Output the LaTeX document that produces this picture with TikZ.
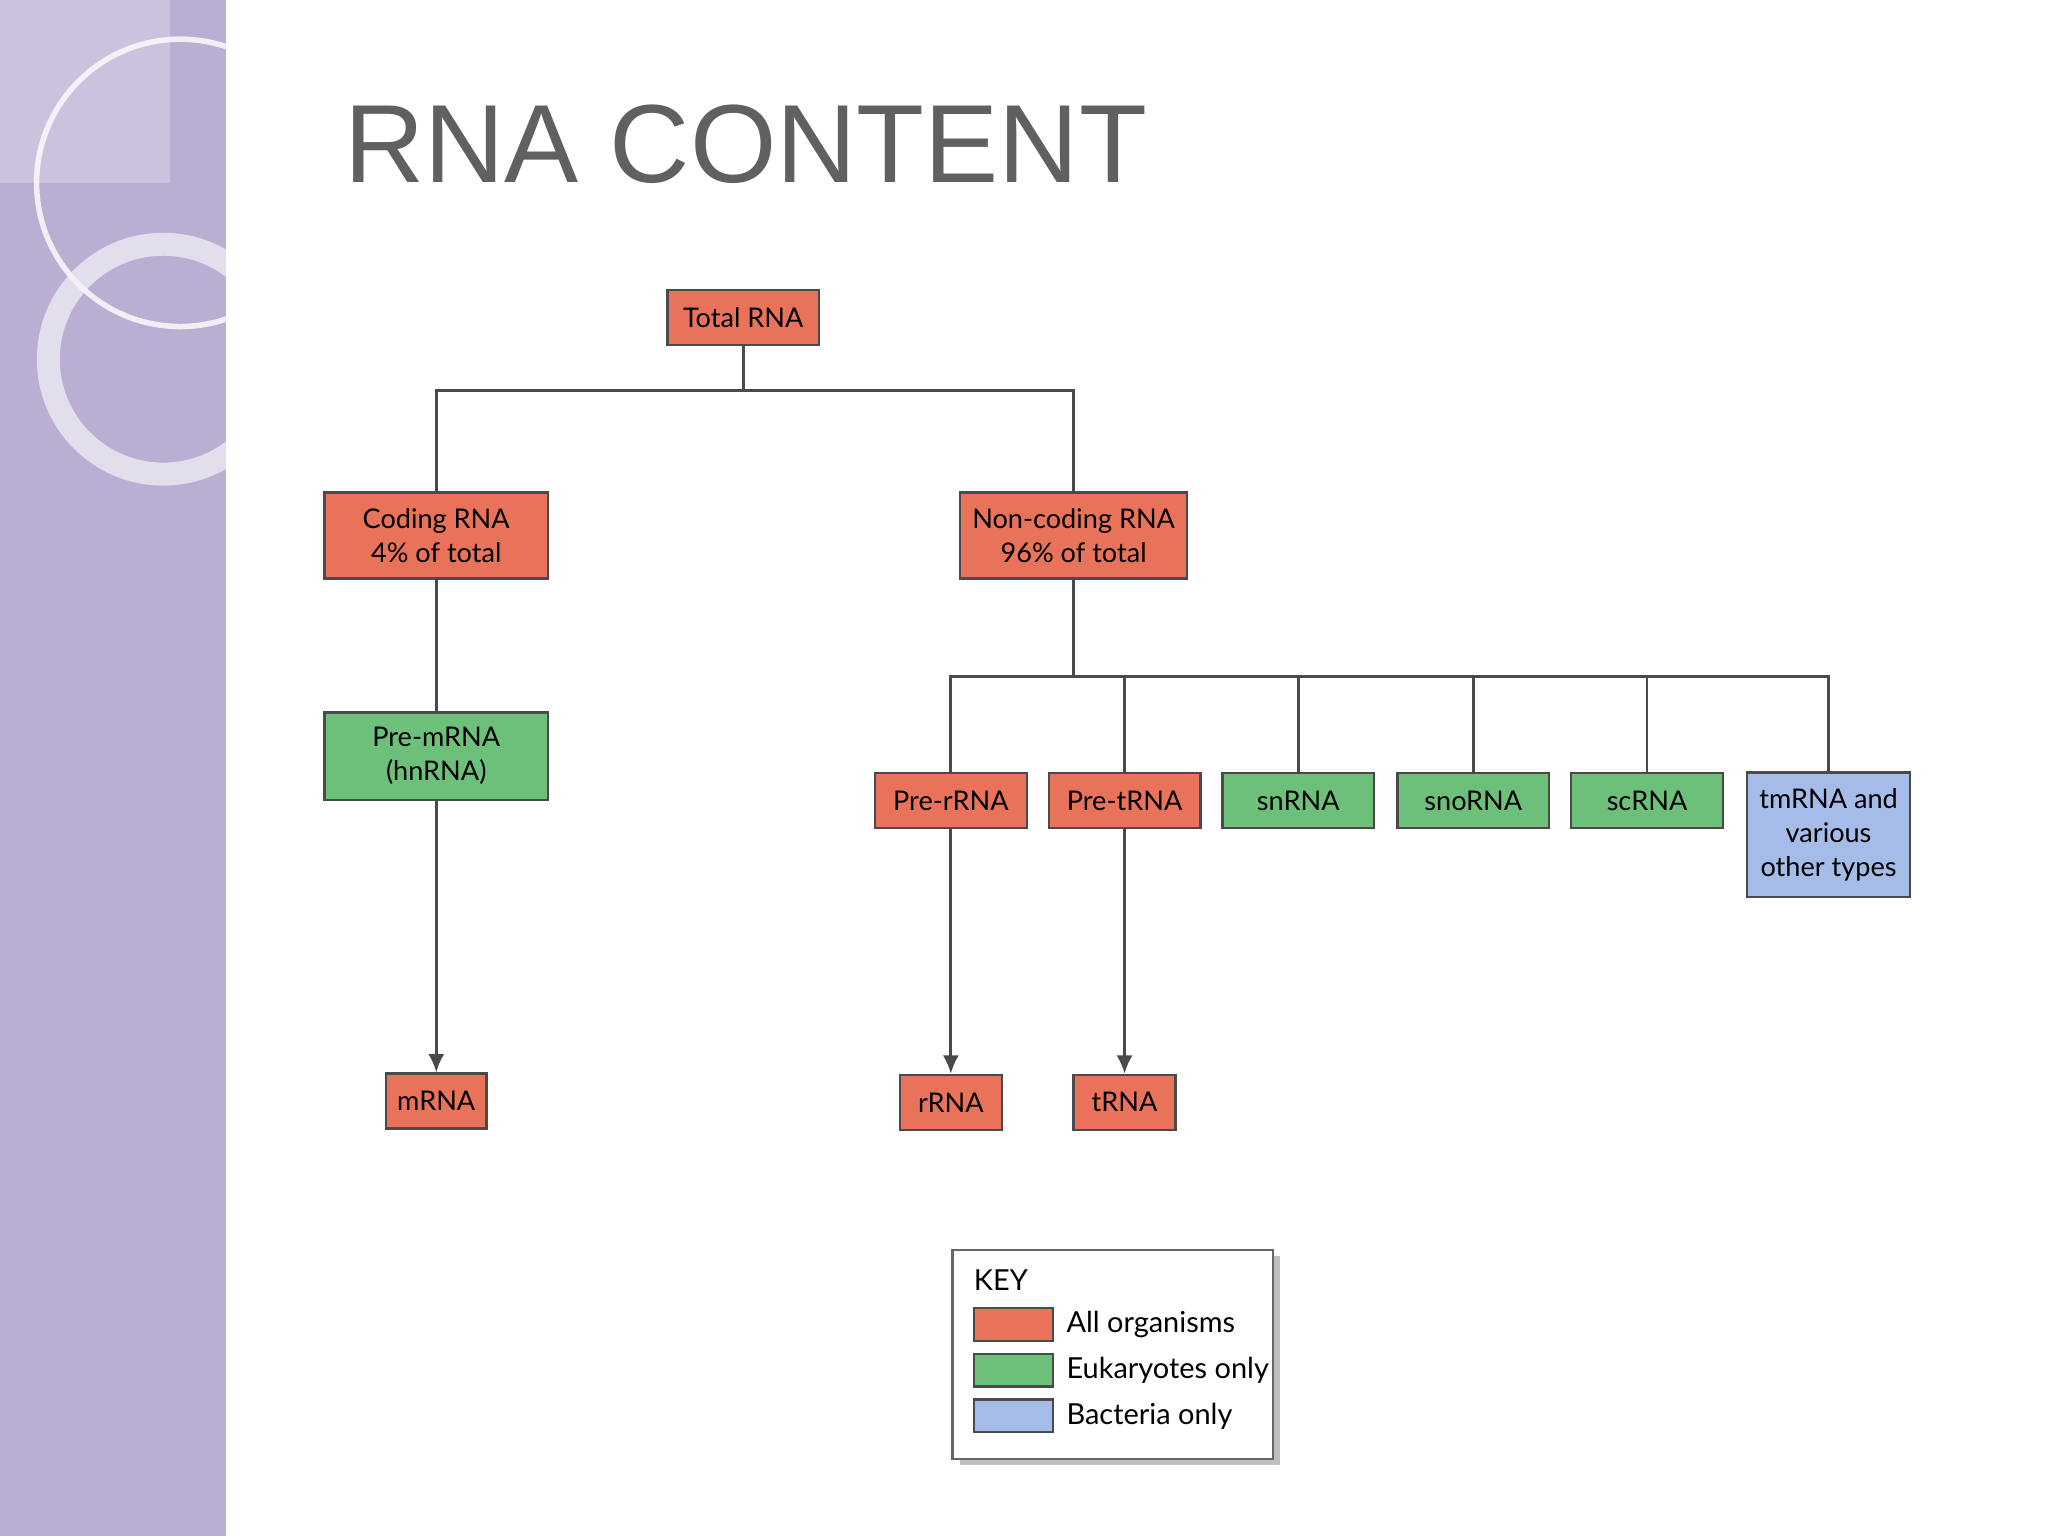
\documentclass[tikz,border=0pt]{standalone}
\usepackage{fontspec}
\setmainfont{Lato}
\newfontfamily\titlefont{Liberation Sans}
\usetikzlibrary{positioning, arrows.meta}
\definecolor{allorg}{HTML}{E8735A}
\definecolor{eukorg}{HTML}{6CC07A}
\definecolor{bacorg}{HTML}{A6BCE8}
\definecolor{sidebar}{HTML}{BBAED3}
\definecolor{titlegray}{HTML}{5F6062}
\definecolor{edgegray}{HTML}{4A4A4A}
\begin{document}
\begin{tikzpicture}[x=0.01cm, y=-0.01cm,
				box/.style={
					rectangle,
					draw=edgegray,
					line width=0.5pt,
					align=center,
					inner sep=1pt,
					minimum height=0.42cm,
					minimum width=1.16cm,
					font=\fontsize{5.9}{7.4}\selectfont
				},
				all/.style={box, fill=allorg},
				euk/.style={box, fill=eukorg},
				bac/.style={box, fill=bacorg},
				link/.style={draw=edgegray, line width=0.6pt},
				arrow/.style={link, -{Latex[length=4pt, width=3.5pt]}}
				]
				\useasboundingbox (0,0) rectangle (1568,1176);
				
				% --- sidebar ---
				\fill[sidebar] (0,0) rectangle (173,1176);
				\begin{scope}
					\clip (0,0) rectangle (173,1176);
					\fill[white, opacity=0.25] (0,0) rectangle (130,140);
					\draw[white, line width=1.2pt, opacity=0.8] (138,140) circle (110);
					\draw[white!85!sidebar, line width=5pt, opacity=0.7] (125,275) circle (88);
				\end{scope}
				
				% --- title ---
				\node[anchor=base west, text=titlegray, inner sep=0pt,
				font=\titlefont\fontsize{24.2}{28}\selectfont] (title) at (263,140) {RNA CONTENT};
				
				% --- top levels ---
				\node[all] (total) at (569,243) {Total RNA};
				\node[all, minimum width=1.71cm, minimum height=0.66cm] (coding) at (334,410) {Coding RNA\\4\% of total};
				\node[all, minimum width=1.74cm, minimum height=0.66cm] (noncoding) at (822,410) {Non-coding RNA\\96\% of total};
				\node[euk, minimum width=1.71cm, minimum height=0.67cm] (premrna) at (334,579) {Pre-mRNA\\(hnRNA)};
				\node[all, minimum width=0.77cm] (mrna) at (334,843) {mRNA};
				
				% --- non-coding children ---
				\node[all] (prerrna) at (728,613) {Pre-rRNA};
				\node[all] (pretrna) at (861,613) {Pre-tRNA};
				\node[euk] (snrna) at (994,613) {snRNA};
				\node[euk] (snorna) at (1128,613) {snoRNA};
				\node[euk] (scrna) at (1261,613) {scRNA};
				\node[bac, minimum width=1.25cm, minimum height=0.95cm] (tmrna) at (1400,639) {tmRNA and\\various\\other types};
				\node[all, minimum width=0.78cm] (rrna) at (728,844) {rRNA};
				\node[all, minimum width=0.78cm] (trna) at (861,844) {tRNA};
				
				% --- connectors ---
				\coordinate (busA) at (569,299);
				\coordinate (busB) at (822,518);
				\draw[link] (total) -- (busA);
				\draw[link] (coding) |- (busA) -| (noncoding);
				\draw[link] (coding) -- (premrna);
				\draw[link] (noncoding) -- (busB);
				\foreach \child in {prerrna, pretrna, snrna, snorna, scrna, tmrna}
				\draw[link] (busB) -| (\child);
				\draw[arrow] (premrna) -- (mrna);
				\draw[arrow] (prerrna) -- (rrna);
				\draw[arrow] (pretrna) -- (trna);
				
				% --- key ---
				\fill[black!25] (735,962) rectangle (980,1122);
				\node[draw=black!60, fill=white, line width=0.6pt, minimum width=2.45cm, minimum height=1.6cm] (key) at (852,1037) {};
				\node[anchor=west, inner sep=0pt, font=\fontsize{6.3}{8}\selectfont] (keytitle) at (745,980) {KEY};
				\foreach \c/\t/\y in {allorg/All organisms/1014, eukorg/Eukaryotes only/1049, bacorg/Bacteria only/1084}{
					\node[draw=edgegray, fill=\c, line width=0.5pt, minimum width=0.6cm, minimum height=0.25cm, inner sep=0pt] (sw\y) at (776,\y) {};
					\node[right=0.09cm of sw\y, inner sep=0pt, font=\fontsize{6.3}{8}\selectfont] (lab\y) {\t};
				}
			\end{tikzpicture}
\end{document}
